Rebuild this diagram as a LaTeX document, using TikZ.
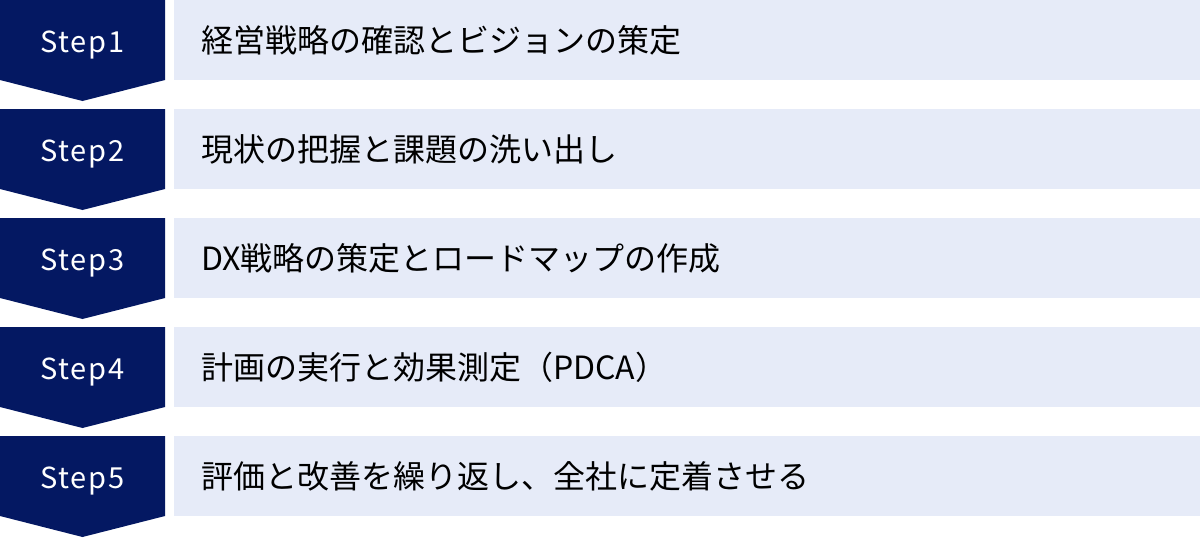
\documentclass[tikz,border=0pt]{standalone}
\usepackage{fontspec}
\setmainfont{Noto Sans CJK JP}
\newfontfamily\stepfont{Noto Sans CJK JP}[LetterSpace=6]
\definecolor{navy}{RGB}{4,24,98}
\definecolor{lavender}{RGB}{230,235,248}

\begin{document}
\begin{tikzpicture}
[x=1pt,y=-1pt,
 stepmark/.style={fill=navy},
 steplabel/.style={text=white,anchor=base,font=\stepfont\fontsize{29}{29}\selectfont,inner sep=0pt},
 taskbox/.style={fill=lavender,anchor=west,minimum height=80pt,text width=972pt,inner xsep=27pt,inner ysep=0pt,align=left,font=\fontsize{32}{32}\selectfont}]
\useasboundingbox (0,0) rectangle (1200,538);
\foreach \i/\txt in {1/経営戦略の確認とビジョンの策定,2/現状の把握と課題の洗い出し,3/DX戦略の策定とロードマップの作成,4/計画の実行と効果測定（PDCA）,5/評価と改善を繰り返し、全社に定着させる}
{
\pgfmathsetmacro\top{(\i-1)*109}
\fill[stepmark] (0,\top) -- (165,\top) -- (165,\top+80) -- (82.5,\top+101) -- (0,\top+80) -- cycle;
\node[steplabel] (s\i) at (82.5,\top+52) {Step\i};
\node[taskbox] (t\i) at (174,\top+40) {\txt};
}
\end{tikzpicture}
\end{document}
